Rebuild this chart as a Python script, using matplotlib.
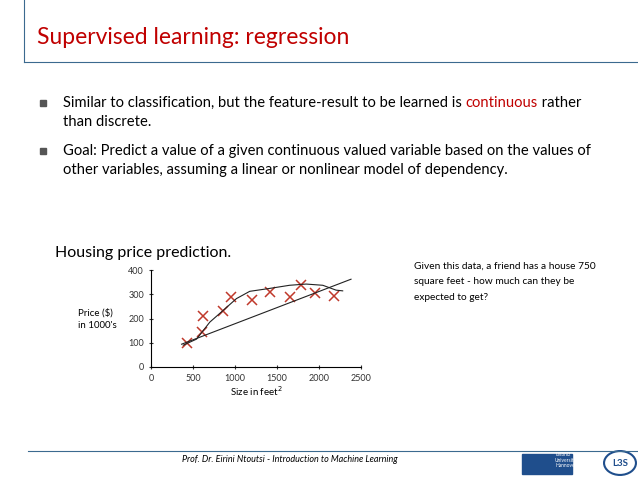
import matplotlib
matplotlib.use("Agg")
import matplotlib.pyplot as plt
from matplotlib.patches import Rectangle

size_x = [423, 613, 621, 858, 957, 1203, 1412, 1658, 1788, 1954, 2184]
price_y = [97, 146, 212, 229, 289, 275, 310, 289, 340, 307, 292]
line_x = [364, 2381]
line_y = [94, 362]
curve_x = [384, 542, 700, 858, 1017, 1175, 1412, 1650, 1847, 2045, 2203, 2282]
curve_y = [90, 115, 185, 233, 282, 312, 324, 337, 342, 337, 317, 314]
xticks = [0, 500, 1000, 1500, 2000, 2500]
yticks = [0, 100, 200, 300, 400]

W, H = 638, 478
fig = plt.figure(figsize=(W/100, H/100), dpi=100)
fig.patch.set_facecolor("white")
plt.rcParams['font.family'] = ['Lato', 'DejaVu Sans']
r = fig.canvas.get_renderer()

def fx(p): return p / W
def fy(p): return 1 - p / H

fig.add_artist(plt.Line2D([fx(24), fx(24)], [fy(0), fy(62)], color="#3b6a8f", lw=0.8))
fig.add_artist(plt.Line2D([fx(24), fx(638)], [fy(62), fy(62)], color="#3b6a8f", lw=0.8))
fig.text(fx(37), fy(38), "Supervised learning: regression", color="#c00000", fontsize=16.5, va="center")

FS = 10.6
def sq(y):
    fig.add_artist(Rectangle((fx(40), fy(y+3)), 6/W, 6/H, color="#555555", transform=fig.transFigure))

sq(103)
x = 63
for part, col in [("Similar to classification, but the feature-result to be learned is ", "black"),
                  ("continuous", "#c00000"), (" rather", "black")]:
    t = fig.text(fx(x), fy(103), part, fontsize=FS, va="center", color=col)
    x += t.get_window_extent(r).width
fig.text(fx(63), fy(122), "than discrete.", fontsize=FS, va="center")
sq(151)
fig.text(fx(63), fy(151), "Goal: Predict a value of a given continuous valued variable based on the values of", fontsize=FS, va="center")
fig.text(fx(63), fy(170), "other variables, assuming a linear or nonlinear model of dependency.", fontsize=FS, va="center")

fig.text(fx(414), fy(266), "Given this data, a friend has a house 750", fontsize=7.3, va="center")
fig.text(fx(414), fy(282), "square feet - how much can they be", fontsize=7.3, va="center")
fig.text(fx(414), fy(298), "expected to get?", fontsize=7.3, va="center")

fig.text(fx(55), fy(253), "Housing price prediction.", fontsize=11.5, va="center")
fig.text(fx(78), fy(313), "Price ($)", fontsize=7, va="center")
fig.text(fx(78), fy(326), "in 1000's", fontsize=7, va="center")

ax = fig.add_axes([fx(151), fy(367), 210/W, 97/H])
ax.plot(size_x, price_y, "x", color="#c0392b", ms=7, mew=1.1)
ax.plot(line_x, line_y, color="#222222", lw=0.8)
ax.plot(curve_x, curve_y, color="#222222", lw=0.8)
ax.set_xlim(0, 2500); ax.set_ylim(0, 400)
ax.set_xticks(xticks); ax.set_yticks(yticks)
ax.tick_params(labelsize=6.5, length=3, direction="inout", colors="#333333")
for s in ["top", "right"]:
    ax.spines[s].set_visible(False)
ax.set_xlabel("Size in feet$^2$", fontsize=7, labelpad=1)

fig.add_artist(plt.Line2D([fx(28), fx(638)], [fy(451), fy(451)], color="#3b6a8f", lw=0.8))
fig.text(fx(290), fy(460), "Prof. Dr. Eirini Ntoutsi - Introduction to Machine Learning", fontsize=6.5, style="italic", ha="center", va="center")
fig.add_artist(Rectangle((fx(522), fy(474)), 50/W, 20/H, color="#1f4e8c", transform=fig.transFigure))
fig.text(fx(555), fy(460), "Leibniz\nUniversität\nHannover", fontsize=3.5, color="white", va="center")
fig.add_artist(plt.Circle((fx(620), fy(463)), 0.025, color="#1f4e8c", fill=False, lw=1.5, transform=fig.transFigure))
fig.text(fx(620), fy(463), "L3S", fontsize=7, color="#1f4e8c", ha="center", va="center", weight="bold")

fig.savefig("out.png", dpi=100)
